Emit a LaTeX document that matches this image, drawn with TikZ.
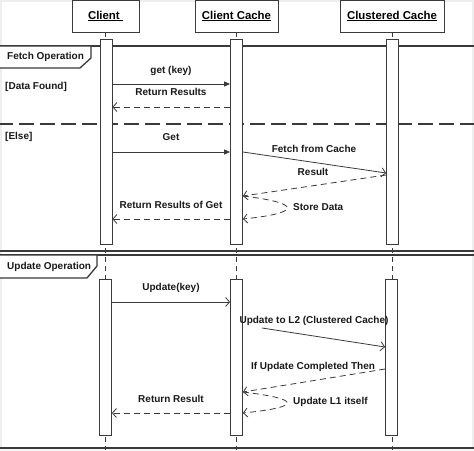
\documentclass[tikz,border=0pt]{standalone}
\usepackage{fontspec}
\setmainfont{Liberation Sans}
\usetikzlibrary{arrows.meta,positioning}
\definecolor{ln}{HTML}{3A3A3A}
\definecolor{bg}{HTML}{EEEEEE}
\tikzset{
    head/.style =   {rectangle,
                    fill=white,
                    draw=ln,
                    text=black,
                    thick,
                    inner sep=0pt,
                    minimum height=32pt,
                    font=\fontsize{11.4}{13}\selectfont\bfseries},
    bar/.style =    {rectangle,
                    fill=white,
                    draw=ln,
                    thick,
                    inner sep=0pt,
                    minimum width=12pt},
    lbl/.style =    {inner sep=0pt,
                    text=black!90,
                    font=\fontsize{10}{12}\selectfont\bfseries},
    tag/.style =    {lbl, anchor=west},
    -,
    life/.style =   {draw=ln, thick, dash pattern=on 5pt off 4pt},
    frame/.style =  {draw=ln, line width=1.3pt},
    sync/.style =   {draw=ln, thick, -{Triangle[length=6pt,width=5pt]}},
    call/.style =   {draw=ln, thick, -{Straight Barb[length=4pt,width=9pt]}},
    reply/.style =  {call, dash pattern=on 6pt off 4pt},
    x=1pt, y=-1pt}

\begin{document}
\begin{tikzpicture}
    \useasboundingbox (0,0) rectangle (474,450);
    \fill[bg] (0,0) rectangle (474,450);
    \fill[white] (2,2) rectangle (472,448);

    % frames
    \draw[frame] (-2,46) rectangle (476,251);
    \draw[frame] (-2,255) rectangle (476,448);
    \draw[frame, fill=white] (-2,46) -- (91,46) -- (91,58) -- (80,68) -- (-2,68);
    \draw[frame, fill=white] (-2,255) -- (97,255) -- (97,266) -- (87,278) -- (-2,278);
    \node[tag] (fetch)  at (7,57)  {Fetch Operation};
    \node[tag] (update) at (7,267) {Update Operation};
    \node[tag] (found)  at (5,87)  {[Data Found]};
    \node[tag] (else)   at (5,137) {[Else]};
    \draw[draw=ln, line width=1.3pt, dash pattern=on 15pt off 6pt] (-2,124) -- (476,124);

    % lifelines
    \node[head, minimum width=67pt]  (client)    at (105.5,16) {\underline{Client\ }};
    \node[head, minimum width=83pt]  (cache)     at (236.5,16) {\underline{Client Cache}};
    \node[head, minimum width=104pt] (clustered) at (392,16)   {\underline{Clustered Cache}};
    \coordinate (bot) at (0,450);
    \foreach \h in {client,cache,clustered}
        \draw[life] (\h.south) -- (\h.south |- bot);

    % activations
    \node[bar, minimum height=205pt] (cl1) at (106,141.5) {};
    \node[bar, minimum height=205pt] (cc1) at (236.5,141.5) {};
    \node[bar, minimum height=205pt] (cu1) at (392.5,141.5) {};
    \node[bar, minimum height=156pt] (cl2) at (105.5,357) {};
    \node[bar, minimum height=156pt] (cc2) at (236.5,357) {};
    \node[bar, minimum height=156pt] (cu2) at (391.5,357) {};

    % message levels
    \foreach \n/\y in {ma/84,mb/107,mc/152,md/173,me/175,mf/196,mg/219,
                       mh/302,mi/328,mj/347,mk/369,ml/392,mm/413}
        \coordinate (\n) at (0,\y);
    \coordinate (l2start) at (262,328);

    % fetch operation
    \draw[sync]  (cl1.east |- ma) -- (cc1.west |- ma);
    \draw[reply] (cc1.west |- mb) -- (cl1.east |- mb);
    \draw[sync]  (cl1.east |- mc) -- (cc1.west |- mc);
    \draw[call]  (cc1.east |- mc) -- (cu1.west |- md);
    \draw[reply] (cu1.west |- me) -- (cc1.east |- mf);
    \draw[reply] (cc1.east |- mf) .. controls (302,203) and (302,213) .. (cc1.east |- mg);
    \draw[reply] (cc1.west |- mg) -- (cl1.east |- mg);
    \node[lbl] (getkey)  at (171,71)  {get (key)};
    \node[lbl] (retres)  at (171,92)  {Return Results};
    \node[lbl] (get)     at (171,137) {Get};
    \node[lbl] (fromc)   at (314,149) {Fetch from Cache};
    \node[lbl] (result)  at (313,172) {Result};
    \node[tag] (store)   at (293,207) {Store Data};
    \node[lbl] (retget)  at (171,205) {Return Results of Get};

    % update operation
    \draw[call]  (cl2.east |- mh) -- (cc2.west |- mh);
    \draw[call]  (l2start) -- (cu2.west |- mj);
    \draw[reply] (cu2.west |- mk) -- (cc2.east |- ml);
    \draw[reply] (cc2.east |- ml) .. controls (302,399) and (302,407) .. (cc2.east |- mm);
    \draw[reply] (cc2.west |- mm) -- (cl2.east |- mm);
    \node[lbl] (updkey)  at (171,288) {Update(key)};
    \node[lbl] (tol2)    at (314,321) {Update to L2 (Clustered Cache)};
    \node[lbl] (ifdone)  at (313,367) {If Update Completed Then};
    \node[tag] (updl1)   at (293,402) {Update L1 itself};
    \node[lbl] (retone)  at (171,399) {Return Result};
\end{tikzpicture}
\end{document}
